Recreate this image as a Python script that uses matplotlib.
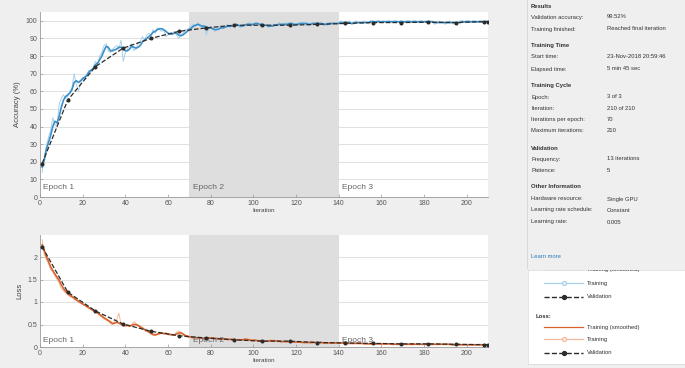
import numpy as np
import matplotlib
matplotlib.use("Agg")
import matplotlib.pyplot as plt

plt.rcParams['font.family'] = ['Liberation Sans', 'DejaVu Sans']

# ---- data ----
iterations = list(range(1, 211))

acc_smooth = [
    17, 21, 27, 31, 35, 40, 43, 42, 46, 51,
    55, 57, 58, 59, 61, 65, 66, 65, 66, 67,
    68, 69, 71, 72, 73, 75, 76, 78, 80, 83,
    85.5, 85, 83, 83, 83.5, 84, 85, 85, 84, 83,
    83, 84, 85.5, 85, 84.5, 85, 86, 88, 89, 90,
    91, 92, 93.5, 94, 95, 95.5, 95.5, 95, 94, 93,
    92.5, 92.5, 93, 93, 92, 91.5, 92, 93, 94, 95,
    96, 97, 97.5, 98, 97.5, 97, 97, 96.5, 96, 96,
    95.5, 95, 95, 95.5, 96, 96, 96.5, 97, 97, 97,
    97.5, 98, 97.5, 97, 97, 97.5, 98, 98, 98, 98,
    98.5, 98.5, 98, 98, 97.5, 97.5, 97, 97, 97, 97.5,
    97.5, 98, 98, 98, 98, 98, 98.5, 98.5, 98, 98,
    98, 98.5, 98.5, 98.5, 98.5, 98, 98, 98.5, 98.5, 98.5,
    98.5, 98.5, 98, 98, 98, 98.5, 98.5, 98.5, 98.5, 98.5,
    99, 99, 99, 99, 99, 98.5, 98.5, 99, 99, 99,
    99, 99, 99, 99, 99.5, 99.5, 99.5, 99.5, 99.5, 99.5,
    99.5, 99.5, 99.5, 99.5, 99.5, 99.5, 99.5, 99.5, 99.5, 99.5,
    99.5, 99.5, 99.5, 99.5, 99.5, 99.5, 99.5, 99.5, 99.5, 99.5,
    99.5, 99.5, 99.5, 99.5, 99, 99, 99, 99, 99, 99,
    99, 99, 99, 99, 99, 99, 99, 99.5, 99.5, 99.5,
    99.5, 99.5, 99.5, 99.5, 99.5, 99.5, 99.5, 99.5, 99.5, 99.5,
]

acc_raw = [
    14, 23, 29, 34, 38, 45, 41, 40, 53, 56,
    58, 56, 57, 60, 62, 70, 64, 60, 64, 68,
    67, 70, 72, 71, 74, 77, 75, 80, 82, 86,
    87, 83, 82, 84, 85, 86, 84, 89, 77, 82,
    84, 86, 87, 83, 84, 87, 88, 91, 89, 92,
    93, 91, 95, 93, 96, 95, 94, 95, 91, 92,
    93, 92, 94, 92, 90, 92, 93, 95, 95, 96,
    97, 98, 97, 99, 97, 96, 97, 92, 96, 97,
    95, 94, 96, 97, 96, 97, 97, 98, 96, 98,
    98, 98, 97, 96, 98, 98, 98, 99, 97, 98,
    99, 98, 97, 98, 97, 98, 96, 97, 98, 98,
    98, 99, 97, 98, 99, 98, 99, 98, 97, 98,
    99, 98, 99, 98, 98, 97, 99, 99, 98, 99,
    98, 99, 97, 98, 99, 99, 98, 99, 98, 99,
    100, 99, 98, 99, 100, 98, 99, 100, 99, 99,
    99, 100, 99, 99, 100, 100, 99, 100, 100, 99,
    100, 99, 100, 100, 99, 100, 100, 99, 100, 100,
    99, 100, 100, 99, 100, 100, 99, 100, 100, 99,
    100, 99, 100, 99, 98, 99, 100, 99, 99, 98,
    99, 100, 99, 98, 99, 99, 100, 100, 99, 100,
    100, 99, 100, 100, 99, 100, 100, 99, 100, 100,
]

loss_smooth = [
    2.27, 2.15, 2.0, 1.9, 1.78, 1.70, 1.62, 1.55, 1.48, 1.38,
    1.30, 1.24, 1.19, 1.15, 1.12, 1.09, 1.05, 1.02, 0.99, 0.96,
    0.93, 0.90, 0.87, 0.84, 0.81, 0.79, 0.76, 0.72, 0.69, 0.65,
    0.62, 0.59, 0.56, 0.52, 0.53, 0.55, 0.53, 0.51, 0.49, 0.48,
    0.48, 0.47, 0.48, 0.50, 0.50, 0.48, 0.45, 0.42, 0.39, 0.36,
    0.34, 0.31, 0.28, 0.27, 0.28, 0.30, 0.31, 0.30, 0.30, 0.29,
    0.28, 0.27, 0.27, 0.29, 0.31, 0.32, 0.29, 0.26, 0.24, 0.23,
    0.22, 0.21, 0.21, 0.20, 0.20, 0.20, 0.19, 0.19, 0.20, 0.20,
    0.20, 0.19, 0.19, 0.18, 0.18, 0.18, 0.18, 0.17, 0.17, 0.17,
    0.17, 0.16, 0.16, 0.16, 0.16, 0.17, 0.17, 0.16, 0.15, 0.15,
    0.15, 0.14, 0.14, 0.14, 0.13, 0.13, 0.13, 0.14, 0.14, 0.14,
    0.13, 0.13, 0.12, 0.12, 0.12, 0.12, 0.12, 0.11, 0.11, 0.11,
    0.11, 0.11, 0.10, 0.10, 0.10, 0.10, 0.10, 0.10, 0.10, 0.10,
    0.10, 0.10, 0.09, 0.09, 0.09, 0.09, 0.09, 0.09, 0.09, 0.09,
    0.09, 0.09, 0.08, 0.08, 0.08, 0.08, 0.08, 0.08, 0.08, 0.08,
    0.08, 0.07, 0.07, 0.07, 0.07, 0.07, 0.07, 0.07, 0.07, 0.07,
    0.07, 0.07, 0.07, 0.07, 0.06, 0.06, 0.06, 0.06, 0.06, 0.06,
    0.06, 0.06, 0.06, 0.06, 0.06, 0.06, 0.06, 0.06, 0.06, 0.06,
    0.06, 0.06, 0.06, 0.06, 0.06, 0.06, 0.06, 0.06, 0.06, 0.06,
    0.06, 0.06, 0.05, 0.05, 0.05, 0.05, 0.05, 0.05, 0.05, 0.05,
    0.05, 0.05, 0.05, 0.05, 0.05, 0.05, 0.05, 0.05, 0.05, 0.05,
]

loss_raw = [
    2.38, 2.05, 1.95, 1.85, 1.72, 1.68, 1.58, 1.50, 1.42, 1.30,
    1.25, 1.20, 1.16, 1.12, 1.10, 1.06, 1.03, 1.00, 0.97, 0.94,
    0.92, 0.88, 0.86, 0.83, 0.80, 0.78, 0.74, 0.70, 0.66, 0.62,
    0.60, 0.57, 0.52, 0.50, 0.58, 0.62, 0.75, 0.49, 0.47, 0.46,
    0.47, 0.45, 0.50, 0.56, 0.52, 0.46, 0.43, 0.40, 0.37, 0.34,
    0.32, 0.28, 0.26, 0.25, 0.30, 0.33, 0.32, 0.28, 0.31, 0.27,
    0.26, 0.28, 0.26, 0.33, 0.36, 0.31, 0.26, 0.24, 0.22, 0.22,
    0.20, 0.19, 0.22, 0.18, 0.21, 0.19, 0.16, 0.20, 0.22, 0.18,
    0.21, 0.17, 0.19, 0.16, 0.19, 0.18, 0.16, 0.15, 0.18, 0.16,
    0.17, 0.14, 0.17, 0.15, 0.16, 0.19, 0.16, 0.14, 0.15, 0.13,
    0.16, 0.13, 0.14, 0.12, 0.14, 0.12, 0.14, 0.16, 0.13, 0.14,
    0.12, 0.14, 0.11, 0.13, 0.12, 0.11, 0.14, 0.10, 0.12, 0.11,
    0.12, 0.10, 0.11, 0.09, 0.11, 0.10, 0.09, 0.11, 0.10, 0.09,
    0.11, 0.09, 0.10, 0.08, 0.10, 0.09, 0.08, 0.10, 0.09, 0.08,
    0.10, 0.08, 0.09, 0.07, 0.09, 0.08, 0.07, 0.09, 0.08, 0.07,
    0.09, 0.07, 0.08, 0.06, 0.08, 0.07, 0.06, 0.08, 0.07, 0.06,
    0.08, 0.06, 0.07, 0.08, 0.06, 0.05, 0.07, 0.06, 0.05, 0.07,
    0.06, 0.05, 0.07, 0.06, 0.05, 0.07, 0.06, 0.05, 0.06, 0.07,
    0.05, 0.06, 0.07, 0.05, 0.06, 0.05, 0.07, 0.06, 0.05, 0.06,
    0.07, 0.05, 0.06, 0.04, 0.05, 0.06, 0.05, 0.04, 0.06, 0.05,
    0.04, 0.06, 0.05, 0.04, 0.05, 0.06, 0.04, 0.05, 0.05, 0.04,
]

val_iters = [1, 13, 26, 39, 52, 65, 78, 91, 104, 117, 130, 143, 156, 169, 182, 195, 208, 210]
val_acc = [19, 55, 74, 84.5, 90, 94, 96, 97.5, 97.5, 97.5, 98, 98.5, 99, 99, 99.2, 99, 99.5, 99.5]
val_loss = [2.23, 1.22, 0.80, 0.51, 0.35, 0.25, 0.20, 0.16, 0.13, 0.13, 0.10, 0.09, 0.08, 0.07, 0.07, 0.06, 0.05, 0.05]

epoch_edges = [0, 70, 140, 210]
epoch_names = ['Epoch 1', 'Epoch 2', 'Epoch 3']

info_rows = [
    ('Results', None),
    ('Validation accuracy:', '99.52%'),
    ('Training finished:', 'Reached final iteration'),
    ('Training Time', None),
    ('Start time:', '23-Nov-2018 20:59:46'),
    ('Elapsed time:', '5 min 45 sec'),
    ('Training Cycle', None),
    ('Epoch:', '3 of 3'),
    ('Iteration:', '210 of 210'),
    ('Iterations per epoch:', '70'),
    ('Maximum iterations:', '210'),
    ('Validation', None),
    ('Frequency:', '13 iterations'),
    ('Patience:', '5'),
    ('Other Information', None),
    ('Hardware resource:', 'Single GPU'),
    ('Learning rate schedule:', 'Constant'),
    ('Learning rate:', '0.005'),
]
info_y = [6, 17, 29, 46, 57, 69, 86, 97, 108, 119, 131, 148, 159, 171, 187, 199, 210, 222]

# ---- colours ----
bg = '#efefef'
blue_s, blue_r = '#3a8fc8', '#a9d0ea'
orange_s, orange_r = '#d9622b', '#f3bb9e'
val_col = '#2b2b2b'
W, H = 685, 368


def style_axes(ax, ylim, yticks, ylabel):
    ax.set_facecolor('white')
    ax.set_xlim(0, 210)
    ax.set_ylim(*ylim)
    ax.set_xticks(range(0, 201, 20))
    ax.set_yticks(yticks)
    ax.set_yticklabels([('%g' % t) for t in yticks])
    for s in ['top', 'right']:
        ax.spines[s].set_visible(False)
    for s in ['left', 'bottom']:
        ax.spines[s].set_color('#9a9a9a')
        ax.spines[s].set_linewidth(0.6)
    ax.tick_params(direction='in', length=2.5, width=0.5, colors='#9a9a9a',
                   labelcolor='#555555', labelsize=5, pad=2)
    ax.yaxis.grid(True, color='#dcdcdc', lw=0.6)
    ax.set_axisbelow(True)
    ax.axvspan(epoch_edges[1], epoch_edges[2], color='#dedede', zorder=0, lw=0)
    ax.set_xlabel('Iteration', fontsize=4.5, color='#444444', labelpad=1)
    ax.set_ylabel(ylabel, fontsize=5.5, color='#444444', labelpad=3)


fig = plt.figure(figsize=(W / 100, H / 100), dpi=100, facecolor=bg)

ax1 = fig.add_axes([40 / W, 1 - 197 / H, 448 / W, 185 / H])
style_axes(ax1, (0, 105), list(range(0, 101, 10)), 'Accuracy (%)')
ax1.plot(iterations, acc_raw, color=blue_r, lw=0.7, zorder=2)
ax1.plot(iterations, acc_smooth, color=blue_s, lw=1.2, zorder=3)
ax1.plot(val_iters, val_acc, color=val_col, ls='--', lw=0.9, marker='o',
         ms=1.9, mfc=val_col, mec=val_col, zorder=4)
for x0, name in zip(epoch_edges[:-1], epoch_names):
    ax1.text(x0 + 1.5, 3.5, name, fontsize=6, color='#666666', va='bottom')

ax2 = fig.add_axes([40 / W, 1 - 347 / H, 448 / W, 112.5 / H])
style_axes(ax2, (0, 2.5), [0, 0.5, 1, 1.5, 2], 'Loss')
ax2.plot(iterations, loss_raw, color=orange_r, lw=0.7, zorder=2)
ax2.plot(iterations, loss_smooth, color=orange_s, lw=1.2, zorder=3)
ax2.plot(val_iters, val_loss, color=val_col, ls='--', lw=0.9, marker='o',
         ms=1.9, mfc=val_col, mec=val_col, zorder=4)
for x0, name in zip(epoch_edges[:-1], epoch_names):
    ax2.text(x0 + 1.5, 0.06, name, fontsize=6, color='#666666', va='bottom')

# ---- information panel on the right ----
fig.add_artist(plt.Line2D([527 / W, 527 / W], [1 - 268 / H, 1], color='#d4d4d4', lw=0.6))
for (label, value), y in zip(info_rows, info_y):
    bold = value is None
    fig.text(531 / W, 1 - y / H, label, fontsize=4.2, color='#333333',
             fontweight='bold' if bold else 'normal', va='center')
    if value is not None:
        fig.text(607 / W, 1 - y / H, value, fontsize=4.2, color='#333333', va='center')
fig.text(531 / W, 1 - 257 / H, 'Learn more', fontsize=4.2, color='#2a7ab8', va='center')

# ---- legend box (scrolled, top entry cut off) ----
leg = fig.add_axes([528 / W, 1 - 364 / H, 157 / W, 94 / H])
leg.set_facecolor('white')
leg.set_xlim(0, 157)
leg.set_ylim(94, 0)
leg.set_xticks([])
leg.set_yticks([])
for s in leg.spines.values():
    s.set_color('#d8d8d8')
    s.set_linewidth(0.5)

entries = [
    (-1, blue_s, '-', None, 'Training (smoothed)'),
    (13, blue_r, '-', 'o', 'Training'),
    (27, val_col, '--', 'o', 'Validation'),
    (57, orange_s, '-', None, 'Training (smoothed)'),
    (69, orange_r, '-', 'o', 'Training'),
    (83, val_col, '--', 'o', 'Validation'),
]
for y, col, ls, mk, label in entries:
    leg.plot([16, 55], [y, y], color=col, ls=ls, lw=1.0 if ls == '--' else 0.9, clip_on=True)
    if mk:
        leg.plot([35.5], [y], marker=mk, ms=2.8, color=col, mfc=col if ls == '--' else 'white',
                 mec=col, clip_on=True)
    leg.text(59, y, label, fontsize=4.2, color='#333333', va='center', clip_on=True)
leg.text(8, 46, 'Loss:', fontsize=4.2, color='#333333', va='center', fontweight='bold')

fig.savefig('out.png', dpi=100, facecolor=bg)
